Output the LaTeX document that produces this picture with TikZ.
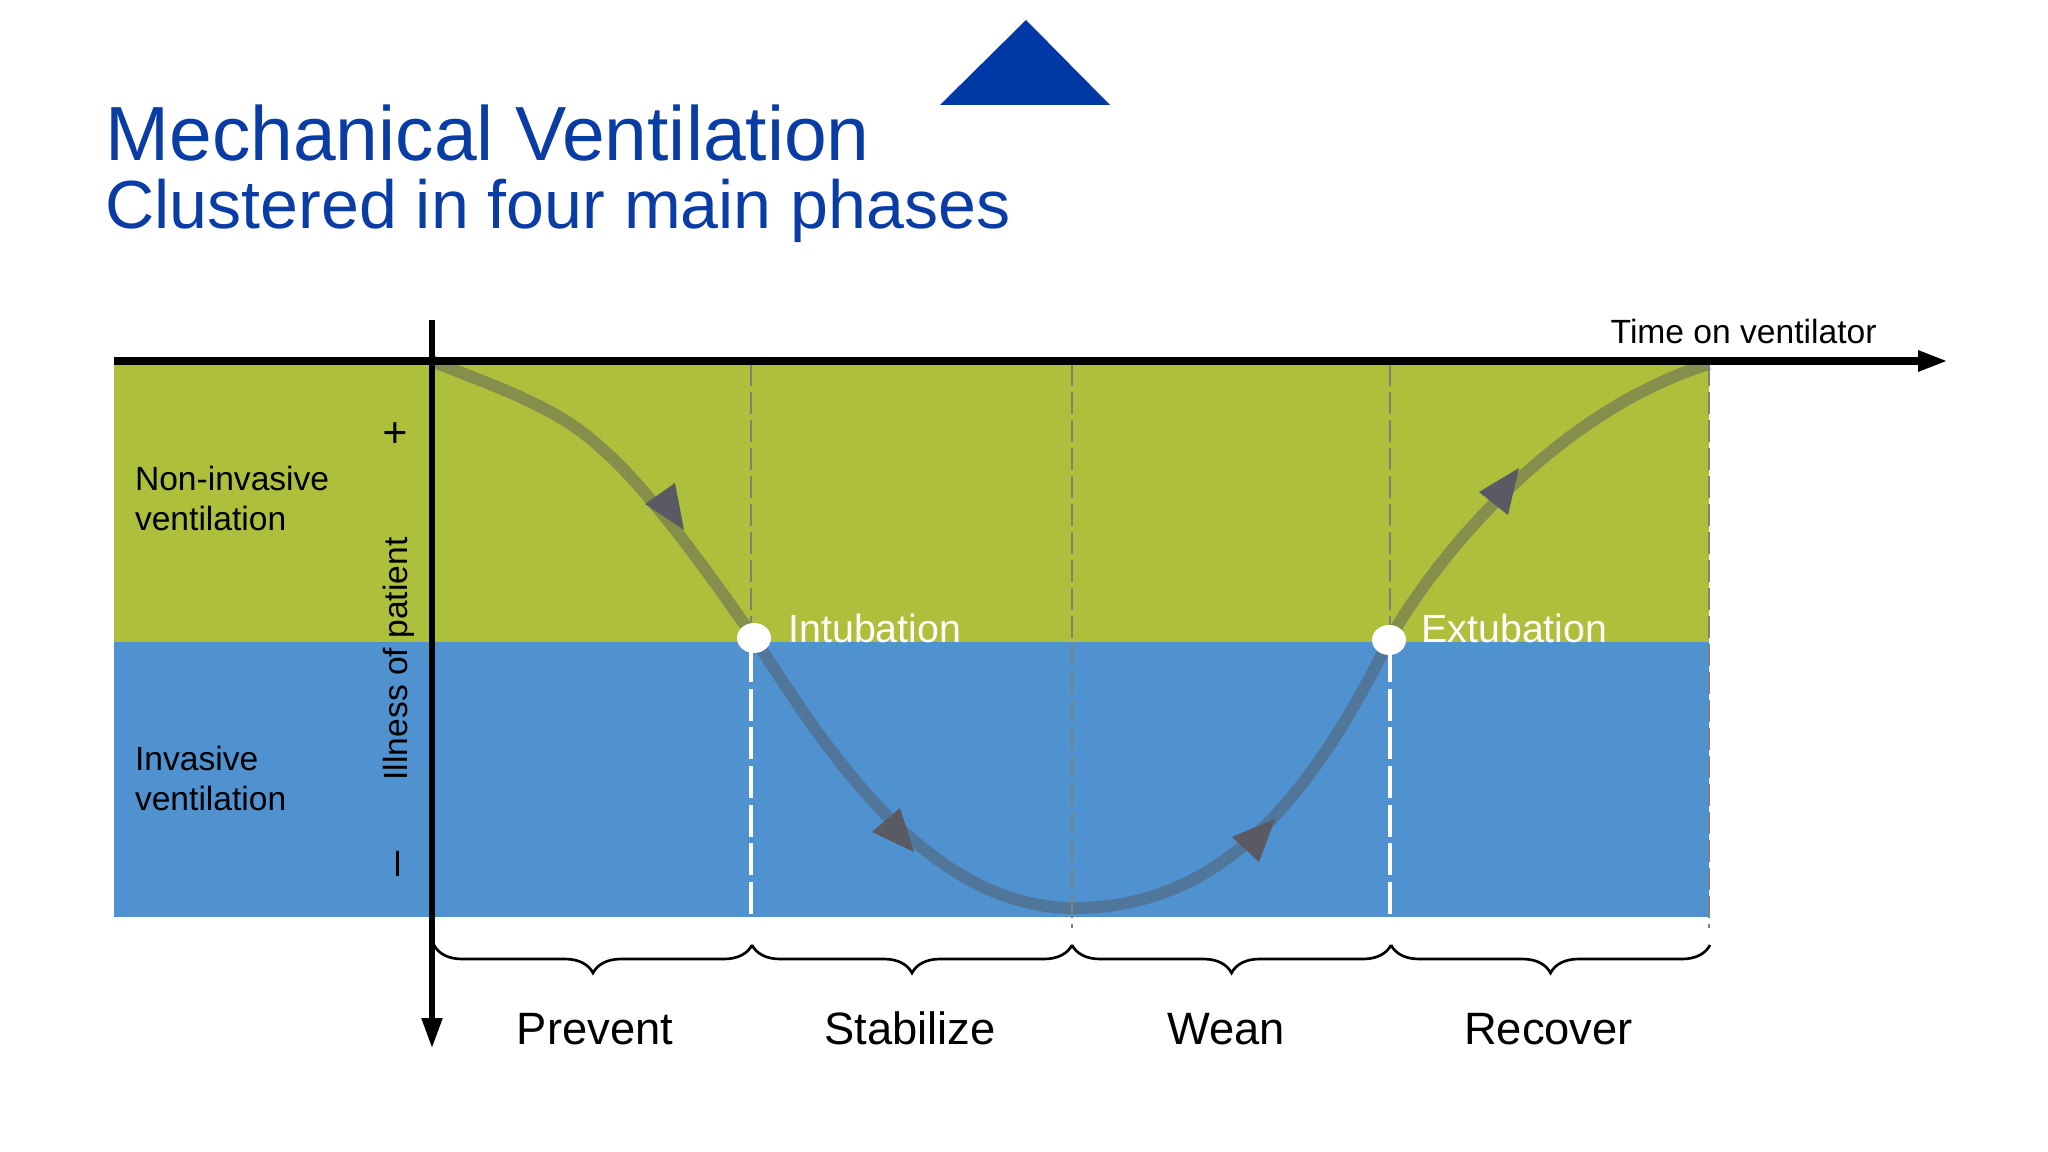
\documentclass[tikz,border=0pt]{standalone}
\usepackage{fontspec}
\setmainfont{Liberation Sans}
\usetikzlibrary{arrows.meta,shapes.geometric,decorations.pathreplacing}

\tikzset{every picture/.style={line width=0.75pt},
  titleblue/.style={text={rgb, 255:red, 10; green, 60; blue, 165 }},
  bandgreen/.style={fill={rgb, 255:red, 174; green, 191; blue, 60 }},
  bandblue/.style={fill={rgb, 255:red, 79; green, 146; blue, 207 }},
  axisline/.style={draw=black,line width=5.6},
  greydash/.style={draw={rgb, 255:red, 125; green, 130; blue, 120 },line width=2.1,dash pattern={on 16.5pt off 4.5pt}},
  whitedash/.style={draw=white,line width=2.8,dash pattern={on 24pt off 5pt}},
  course/.style={draw={rgb, 255:red, 85; green, 85; blue, 95 },draw opacity=0.45,line width=9},
  coursetip/.style={fill={rgb, 255:red, 90; green, 90; blue, 100 }},
  eventdot/.style={ellipse,fill=white,inner sep=0pt,minimum width=25.5,minimum height=22.5},
  phasebrace/.style={draw=black,line width=2,decorate,decoration={brace,amplitude=21,aspect=0.5}},
  smalltext/.style={font=\fontsize{25.2}{29.5}\selectfont,inner sep=0.75pt},
  eventtext/.style={font=\fontsize{29.5}{35}\selectfont,text=white,inner sep=0.75pt},
  phasetext/.style={font=\fontsize{34}{40}\selectfont,inner sep=0.75pt,anchor=base}}

\begin{document}
\begin{tikzpicture}[x=0.75pt,y=0.75pt,yscale=-1,xscale=1]
\useasboundingbox (0,0) rectangle (2048,1152);

% Named points
\coordinate (origin) at (432,361);
\coordinate (xleft) at (114,361);
\coordinate (xend) at (1948,361);
\coordinate (ytop) at (432,320);
\coordinate (yend) at (432,1048);
\coordinate (courseend) at (1709,364);
\coordinate (coursebend) at (600,447);
\coordinate (coursebottom) at (1074,908);
\coordinate (intubpt) at (754,638);
\coordinate (extubpt) at (1389,640);

%Shape: Triangle
\fill [fill={rgb, 255:red, 0; green, 57; blue, 166 }] (1026,20) -- (1110,105) -- (940,105) -- cycle ;

% Title Nodes
\node (title) [titleblue,anchor=base west,inner sep=0pt,font=\fontsize{57.6}{60}\selectfont] at (105,160.7) {Mechanical Ventilation};
\node (subtitle) [titleblue,anchor=base west,inner sep=0pt,font=\fontsize{51.1}{54}\selectfont] at (105,228) {Clustered in four main phases};

%Shape: Rectangles
\fill [bandgreen] (114,361) rectangle (1709,642);
\fill [bandblue] (114,642) rectangle (1709,917);

%Curve
\draw [course] (origin) .. controls (490,385) and (555,405) .. (coursebend) .. controls (650,490) and (710,575) .. (intubpt) .. controls (815,730) and (920,908) .. (coursebottom) .. controls (1220,908) and (1310,800) .. (extubpt) .. controls (1440,550) and (1560,410) .. (courseend) ;

%Straight Lines
\draw [greydash] (751,364) -- (751,642);
\draw [whitedash] (751,650) -- (751,917);
\draw [greydash] (1072,364) -- (1072,928);
\draw [greydash] (1390,364) -- (1390,642);
\draw [whitedash] (1390,650) -- (1390,917);
\draw [greydash] (1709,364) -- (1709,928);

%Arrow heads on curve
\fill [coursetip] (675,483) -- (684,530) -- (645,504) -- cycle ;
\fill [coursetip] (900,808) -- (914,852) -- (872,832) -- cycle ;
\fill [coursetip] (1275,819) -- (1259,862) -- (1232,837) -- cycle ;
\fill [coursetip] (1519,468) -- (1508,515) -- (1479,492) -- cycle ;

%Axes
\draw [axisline,-{Triangle[length=22.5,width=14.5]}] (xleft) -- (xend);
\draw [axisline,line width=4,-{Triangle[length=22.5,width=15]}] (ytop) -- (yend);

%Event dots
\node (intubation) [eventdot] at (intubpt) {};
\node (extubation) [eventdot] at (extubpt) {};

%Braces
\coordinate (b0) at (434,945);
\coordinate (b1) at (752,945);
\coordinate (b2) at (1072,945);
\coordinate (b3) at (1391,945);
\coordinate (b4) at (1710,945);
\draw [phasebrace] (b1) -- (b0);
\draw [phasebrace] (b2) -- (b1);
\draw [phasebrace] (b3) -- (b2);
\draw [phasebrace] (b4) -- (b3);

% Text Node
\node (timelabel) [smalltext,anchor=east] at (1878,331) {Time on ventilator};
% Text Node
\node (noninvasive) [smalltext,anchor=west,align=left] at (133.5,498.5) {Non-invasive\\ventilation};
% Text Node
\node (invasive) [smalltext,anchor=west,align=left] at (133.5,778.5) {Invasive\\ventilation};
% Text Node
\node (illness) [smalltext,rotate=90] at (399,659) {Illness of patient};
% Text Node
\node (plussign) [smalltext,rotate=90,font=\fontsize{32}{36}\selectfont] at (397,433) {+};
% Text Node
\node (minussign) [smalltext,rotate=90,font=\fontsize{34}{40}\selectfont] at (403,864) {–};
% Text Node
\node (intubtext) [eventtext,anchor=west] at (787,628.5) {Intubation};
% Text Node
\node (extubtext) [eventtext,anchor=west] at (1420,628.5) {Extubation};
% Text Node
\node (prevent) [phasetext] at (595,1044.5) {Prevent};
% Text Node
\node (stabilize) [phasetext] at (910,1044.5) {Stabilize};
% Text Node
\node (wean) [phasetext] at (1226,1044.5) {Wean};
% Text Node
\node (recover) [phasetext] at (1548.5,1044.5) {Recover};

\end{tikzpicture}
\end{document}
